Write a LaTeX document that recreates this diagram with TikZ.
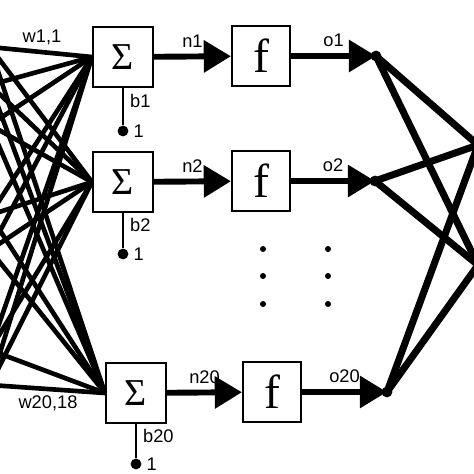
\documentclass[tikz,border=0pt]{standalone}
\usepackage{fontspec}
\setmainfont{Liberation Serif}
\setsansfont{Liberation Sans}
\usetikzlibrary{arrows.meta, positioning}

\begin{document}
\begin{tikzpicture}[
  x=0.025cm, y=-0.025cm,
  >={Triangle[length=0.68cm, width=0.78cm]},
  every node/.style={font=\sffamily\fontsize{13}{14}\selectfont},
  sumbox/.style={rectangle, draw, line width=1.5pt, fill=white, minimum width=1.5cm, minimum height=1.48cm, inner sep=0pt, font=\rmfamily\fontsize{27}{27}\selectfont},
  actbox/.style={rectangle, draw, line width=1.5pt, fill=white, minimum width=1.45cm, minimum height=1.48cm, inner sep=0pt, font=\rmfamily\fontsize{34}{34}\selectfont},
  wire/.style={line width=3.3pt},
  link/.style={line width=5pt},
  sig/.style={->, line width=4.2pt},
  biasline/.style={line width=1.5pt},
  dot/.style={circle, fill, inner sep=0pt, minimum size=0.27cm},
]
\clip (0,0) rectangle (474,474);

% inputs, left of the visible part
\foreach \y [count=\i] in {47,85,125,215,250,350,385}
  \coordinate (x\i) at (-10,\y);

% outputs, right of the visible part
\coordinate (r1) at (478,145);
\coordinate (r2) at (478,265);

\node[sumbox] (sum1) at (123,57) {Σ};
\node[sumbox] (sum2) at (123,182) {Σ};
\node[sumbox] (sum20) at (136,393) {Σ};

\foreach \i in {1,...,7}
  \foreach \s in {sum1,sum2,sum20}
    \draw[wire] (x\i) -- (\s.west);

\node[actbox] (f1) at (261,56) {f};
\node[actbox] (f2) at (261,181) {f};
\node[actbox] (f20) at (272,392) {f};

\node[dot] (b1) at (123,131) {};
\node[dot] (b2) at (123,254) {};
\node[dot] (b20) at (136,464) {};

\node[dot] (o1) at (376,56) {};
\node[dot] (o2) at (375,181) {};
\node[dot] (o20) at (387,392) {};

\draw[sig] (sum1) -- node[above=1pt] {n1} (f1);
\draw[sig] (sum2) -- node[above=1pt] {n2} (f2);
\draw[sig] (sum20) -- node[above=1pt] {n20} (f20);

\draw[sig] (f1) -- node[above=1pt] {o1} (o1.center);
\draw[sig] (f2) -- node[above=1pt] {o2} (o2.center);
\draw[sig] (f20) -- node[above=1pt] {o20} (o20.center);

\draw[biasline] (sum1) -- node[pos=0.35, right=1pt] {b1} (b1);
\draw[biasline] (sum2) -- node[pos=0.35, right=1pt] {b2} (b2);
\draw[biasline] (sum20) -- node[pos=0.35, right=1pt] {b20} (b20);
\node[right=0pt of b1] (one1) {1};
\node[right=0pt of b2] (one2) {1};
\node[right=0pt of b20] (one20) {1};

\foreach \o in {o1,o2,o20}
  \foreach \r in {r1,r2}
    \draw[link] (\o.center) -- (\r);

% vertical dots between the rows
\foreach \x in {263,328}
  \foreach \y in {249,276,304}
    \fill (\x,\y) circle (0.075cm);

\node (w11) at (42,37) {w1,1};
\node (w2018) at (48,403) {w20,18};
\end{tikzpicture}
\end{document}
